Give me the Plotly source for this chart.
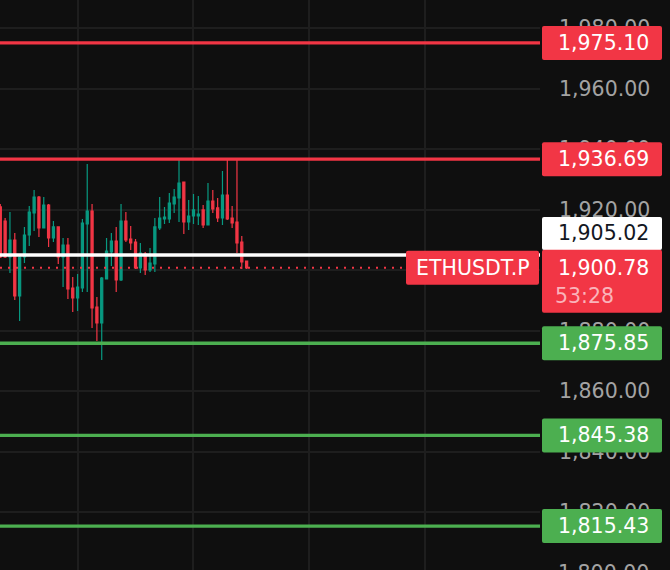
import plotly.graph_objects as go

# hourly ETHUSDT.P candles
opens = [1920.89, 1916.26, 1904.36, 1909.98, 1891.47, 1904.36, 1911.63, 1918.90, 1924.19, 1913.95,
         1921.55, 1910.64, 1914.28, 1904.36, 1908.32, 1894.11, 1890.81, 1894.11, 1915.27, 1919.56,
         1887.83, 1882.54, 1897.09, 1906.01, 1909.65, 1896.76, 1916.26, 1910.31, 1909.32, 1900.72,
         1905.35, 1900.06, 1902.04, 1913.95, 1916.92, 1916.92, 1921.88, 1923.86, 1929.15, 1915.93,
         1917.91, 1917.91, 1919.90, 1914.94, 1922.87, 1920.56, 1917.25, 1924.85, 1917.25, 1915.93,
         1909.32, 1903.04]
highs = [1921.88, 1917.25, 1919.23, 1912.29, 1904.69, 1914.28, 1921.22, 1926.51, 1924.52, 1924.19,
         1921.88, 1916.26, 1914.28, 1910.64, 1910.64, 1897.75, 1898.74, 1916.92, 1935.10, 1921.88,
         1891.14, 1897.75, 1910.64, 1912.29, 1914.28, 1921.88, 1919.23, 1914.61, 1910.31, 1908.99,
         1906.01, 1907.33, 1917.25, 1924.19, 1920.89, 1925.51, 1926.84, 1936.42, 1929.15, 1923.20,
         1925.18, 1924.52, 1921.55, 1928.82, 1926.51, 1923.86, 1932.79, 1936.42, 1921.22, 1936.42,
         1911.30, 1903.04]
lows = [1904.03, 1904.03, 1899.07, 1890.15, 1883.20, 1902.37, 1907.99, 1912.95, 1910.97, 1913.95,
        1907.66, 1909.32, 1902.04, 1894.44, 1890.48, 1886.18, 1886.51, 1892.79, 1892.79, 1880.89,
        1876.59, 1870.31, 1897.09, 1901.38, 1892.79, 1896.42, 1909.32, 1906.67, 1900.39, 1899.07,
        1898.41, 1899.40, 1899.40, 1913.28, 1915.27, 1915.60, 1918.90, 1915.93, 1911.96, 1913.28,
        1915.27, 1914.94, 1913.95, 1914.94, 1918.90, 1915.93, 1914.94, 1916.59, 1913.95, 1905.68,
        1900.39, 1900.39]
closes = [1904.36, 1904.36, 1909.98, 1891.47, 1904.36, 1911.63, 1919.23, 1924.19, 1913.95, 1921.55,
          1910.64, 1914.28, 1904.36, 1908.32, 1893.78, 1890.81, 1894.44, 1915.60, 1919.56, 1887.50,
          1882.54, 1897.42, 1906.34, 1909.65, 1896.76, 1916.26, 1909.98, 1908.99, 1900.72, 1905.68,
          1900.06, 1902.37, 1914.28, 1917.25, 1917.58, 1922.21, 1924.19, 1928.82, 1915.93, 1917.91,
          1919.90, 1918.57, 1914.94, 1922.87, 1920.23, 1917.25, 1924.85, 1916.92, 1915.60, 1908.99,
          1902.71, 1900.78]

resistance = [1975.10, 1936.69]
support = [1875.85, 1845.38, 1815.43]
white_level = 1905.02
last_price = 1900.78
symbol = 'ETHUSDT.P'
countdown = '53:28'

RED = '#f23645'
GREEN_LVL = '#4caf50'
UP = '#089981'
BG = '#0f0f0f'
GRID = '#1e1e1e'
FONT = 'DejaVu Sans'
FS = 20.5

y_lo, y_hi = 1800.9, 1989.3


def rounded(x0, x1, y0, y1, r=2):
    # pixel path, y grows upward (pixel sizemode)
    return (f'M{x0 + r},{y0} L{x1 - r},{y0} Q{x1},{y0} {x1},{y0 + r} L{x1},{y1 - r} '
            f'Q{x1},{y1} {x1 - r},{y1} L{x0 + r},{y1} Q{x0},{y1} {x0},{y1 - r} '
            f'L{x0},{y0 + r} Q{x0},{y0} {x0 + r},{y0} Z')


def box(level, color, x0=2, x1=122, y0=-17, y1=17):
    return dict(type='path', xref='paper', yref='y', xsizemode='pixel', ysizemode='pixel',
                xanchor=1, yanchor=level, path=rounded(x0, x1, y0, y1),
                fillcolor=color, line_width=0, layer='above')


def hline(level, color, dash='solid', width=3.3):
    return dict(type='line', xref='paper', yref='y', x0=0, x1=1, y0=level, y1=level,
                line=dict(color=color, width=width, dash=dash), layer='above')


def label(level, text, color='white', xshift=111, yshift=0):
    return dict(xref='paper', yref='y', x=1, y=level, xanchor='right', yanchor='middle',
                xshift=xshift, yshift=yshift, text=text, showarrow=False,
                font=dict(family=FONT, size=FS, color=color))


fig = go.Figure(go.Candlestick(
    x=list(range(len(opens))), open=opens, high=highs, low=lows, close=closes,
    increasing=dict(line=dict(color=UP, width=1.2), fillcolor=UP),
    decreasing=dict(line=dict(color=RED, width=1.2), fillcolor=RED),
    whiskerwidth=0, hoverinfo='skip'))

shapes = []
for lv in resistance:
    shapes.append(hline(lv, RED))
for lv in support:
    shapes.append(hline(lv, GREEN_LVL))
shapes.append(hline(white_level, 'white'))
shapes.append(hline(last_price, RED, dash='2px,6px', width=2))

for lv in resistance:
    shapes.append(box(lv, RED))
for lv in support:
    shapes.append(box(lv, GREEN_LVL))
shapes.append(box(white_level, 'white', y0=5, y1=38))
shapes.append(box(last_price, RED, y0=-45, y1=18))
shapes.append(box(last_price, RED, x0=-134, x1=-1, y0=-17, y1=17))

annotations = [label(lv, f'{lv:,.2f}') for lv in resistance + support]
annotations.append(label(white_level, f'{white_level:,.2f}', color='#131722', yshift=21.5))
annotations.append(label(last_price, f'{last_price:,.2f}'))
annotations.append(label(last_price, countdown, color='#fab3ba', xshift=76, yshift=-28))
annotations.append(label(last_price, symbol, xshift=-8))
# 1,800.00 sits just below the visible range, only its top shows
annotations.append(dict(xref='paper', yref='paper', x=1, y=(1800 - y_lo) / (y_hi - y_lo),
                        xanchor='right', yanchor='middle', xshift=111, text='1,800.00',
                        showarrow=False, font=dict(family=FONT, size=FS, color='#a3a3a3')))

fig.update_layout(
    width=670, height=570,
    margin=dict(l=0, r=130, t=0, b=0),
    paper_bgcolor=BG, plot_bgcolor=BG,
    showlegend=False, boxgap=0.38,
    shapes=shapes, annotations=annotations,
    xaxis=dict(range=[-0.06, 111.74], showticklabels=False, ticks='',
               tick0=16, dtick=24, showgrid=True, gridcolor=GRID, gridwidth=2,
               zeroline=False, rangeslider=dict(visible=False), fixedrange=True),
    yaxis=dict(range=[y_lo, y_hi], side='right', tick0=1800, dtick=20, tickformat=',.2f',
               showgrid=True, gridcolor=GRID, gridwidth=2, zeroline=False, ticks='',
               ticklabelstandoff=18, tickfont=dict(family=FONT, size=FS, color='#a3a3a3'),
               fixedrange=True),
)

# page body margin would push the chart 8px off the corner
fig.write_html('out.html', config={'displayModeBar': False},
               post_script="document.body.style.margin='0';document.body.style.overflow='hidden';")
